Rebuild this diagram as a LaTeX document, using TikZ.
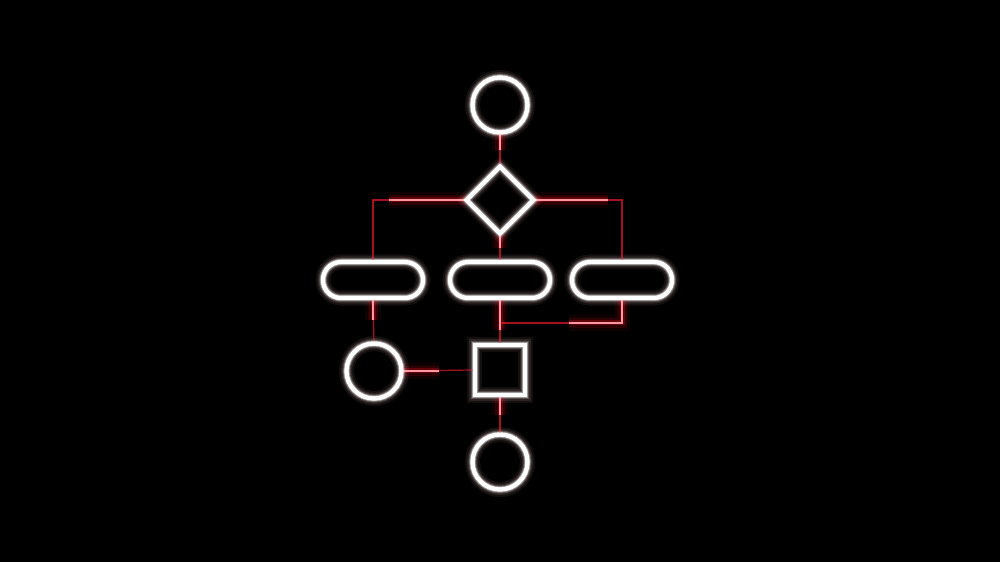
\documentclass[tikz,border=0pt]{standalone}
\usetikzlibrary{shapes.geometric,shapes.misc}
\definecolor{dimred}{HTML}{A8101E}
\definecolor{hotred}{HTML}{FF5060}
\definecolor{glowred}{HTML}{FF1020}
\begin{document}
\begin{tikzpicture}[x=0.01cm,y=-0.01cm,
  neon/.style={draw=white, line width=0.04cm, inner sep=0pt, outer sep=0pt,
    preaction={draw=white!80!red, line width=0.15cm, opacity=0.04},
    preaction={draw=white!80!red, line width=0.11cm, opacity=0.06},
    preaction={draw=white, line width=0.08cm, opacity=0.10},
    preaction={draw=white, line width=0.06cm, opacity=0.25}},
  ring/.style={neon, circle, minimum size=0.55cm},
  gem/.style={neon, diamond, minimum width=0.67cm, minimum height=0.67cm},
  pill/.style={neon, rounded rectangle, minimum width=1.0cm, minimum height=0.36cm},
  box/.style={neon, rectangle, minimum size=0.50cm},
  wire/.style={draw=dimred, line width=0.012cm},
  hot/.style={draw=hotred!60!white, line width=0.018cm,
    preaction={draw=glowred, line width=0.16cm, opacity=0.06},
    preaction={draw=glowred, line width=0.10cm, opacity=0.12},
    preaction={draw=glowred, line width=0.05cm, opacity=0.25}}
]
\fill[black] (0,0) rectangle (1000,562);
\useasboundingbox (0,0) rectangle (1000,562);

% nodes
\node[ring] (c1) at (500,105) {};
\node[gem]  (d)  at (500,200) {};
\node[pill] (p1) at (373,280) {};
\node[pill] (p2) at (500,280) {};
\node[pill] (p3) at (622,280) {};
\node[ring] (c2) at (374,371) {};
\node[box]  (sq) at (500,370) {};
\node[ring] (c3) at (500,462) {};

% helper coordinates
\coordinate (j)  at (500,323);
\coordinate (bl) at (389,200);
\coordinate (br) at (608,200);
\coordinate (bt) at (500,150);
\coordinate (bm) at (500,248);
\coordinate (bj) at (569,323);
\coordinate (bc) at (439,371);
\coordinate (bb) at (500,415);
\coordinate (bq) at (373,320);
\coordinate (bp) at (500,330);

% dim wires
\draw[wire] (c1.south) -- (d.north);
\draw[wire] (d.west) -| (p1.north);
\draw[wire] (d.east) -| (p3.north);
\draw[wire] (d.south) -- (p2.north);
\draw[wire] (p1.south) -- (c2.north);
\draw[wire] (p2.south) -- (sq.north);
\draw[wire] (p3.south) |- (j);
\draw[wire] (c2.east) -- (sq.west);
\draw[wire] (sq.south) -- (c3.north);

% bright pulses
\draw[hot] (c1.south) -- (bt);
\draw[hot] (d.west) -- (bl);
\draw[hot] (d.east) -- (br);
\draw[hot] (d.south) -- (bm);
\draw[hot] (p1.south) -- (bq);
\draw[hot] (p2.south) -- (bp);
\draw[hot] (p3.south) |- (bj);
\draw[hot] (c2.east) -- (bc);
\draw[hot] (sq.south) -- (bb);

% redraw nodes on top
\node[ring] at (c1) {};
\node[gem]  at (d) {};
\node[pill] at (p1) {};
\node[pill] at (p2) {};
\node[pill] at (p3) {};
\node[ring] at (c2) {};
\node[box]  at (sq) {};
\node[ring] at (c3) {};
\end{tikzpicture}
\end{document}
